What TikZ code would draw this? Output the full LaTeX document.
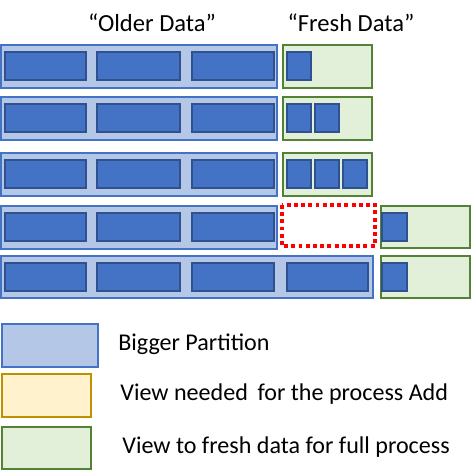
\documentclass[tikz,border=0pt]{standalone}
\usepackage{fontspec}
\setmainfont{Carlito}
\usepackage{xcolor}

\definecolor{partfill}{RGB}{180,199,231}
\definecolor{partline}{RGB}{68,114,196}
\definecolor{segfill}{RGB}{68,114,196}
\definecolor{segline}{RGB}{47,82,143}
\definecolor{freshfill}{RGB}{226,240,217}
\definecolor{freshline}{RGB}{84,130,53}
\definecolor{addfill}{RGB}{255,242,204}
\definecolor{addline}{RGB}{191,144,0}

\tikzset{
  part/.style={draw=partline,fill=partfill,line width=1.1pt},
  seg/.style={draw=segline,fill=segfill,line width=0.9pt},
  freshview/.style={draw=freshline,fill=freshfill,line width=1.1pt},
  addview/.style={draw=addline,fill=addfill,line width=1.1pt},
  gapview/.style={draw=red,line width=2.2pt,dash pattern=on 2.2pt off 1.9pt},
  head/.style={inner sep=0pt,font=\fontsize{14}{16}\selectfont},
  lbl/.style={anchor=west,inner sep=0pt,font=\fontsize{13.7}{16}\selectfont},
}

\begin{document}
\begin{tikzpicture}[x=0.02cm,y=-0.02cm]
    \useasboundingbox (0,0) rectangle (474,476);
    \node[head] (older) at (152,23) {“Older Data”};
    \node[head] (fresh) at (351,23) {“Fresh Data”};
    % partitions with three segments
    \foreach \t in {45,97,153,206}{
      \draw[part] (1,\t) rectangle (277,\t+43);
      \foreach \a/\b in {5/86,97/180,192/274}
        \draw[seg] (\a,\t+7) rectangle (\b,\t+35);
    }
    % bigger partition
    \draw[part] (1,256) rectangle (373,298);
    \foreach \a/\b in {5/86,97/180,192/274,287/368}
      \draw[seg] (\a,263) rectangle (\b,291);
    % views to fresh data
    \foreach \t/\k in {45/1,97/2,153/3}{
      \draw[freshview] (283,\t) rectangle (372,\t+43);
      \foreach \i in {1,...,\k}
        \draw[seg] ({287+(\i-1)*28},\t+7) rectangle ({311+(\i-1)*28},\t+35);
    }
    \foreach \t in {206,256}{
      \draw[freshview] (381,\t) rectangle (470,\t+42);
      \draw[seg] (382,\t+7) rectangle (407,\t+35);
    }
    \draw[gapview] (282,205) rectangle (375,246);
    % legend
    \draw[part] (2,324) rectangle (98,367);
    \node[lbl] (biglbl) at (118,344) {Bigger Partition};
    \draw[addview] (2,374) rectangle (91,417);
    \node[lbl] (addlbl) at (120,394) {View needed\hspace{0.4em}for the process Add};
    \draw[freshview] (2,427) rectangle (91,469);
    \node[lbl] (freshlbl) at (122,447) {View to fresh data for full process};
  \end{tikzpicture}
\end{document}
